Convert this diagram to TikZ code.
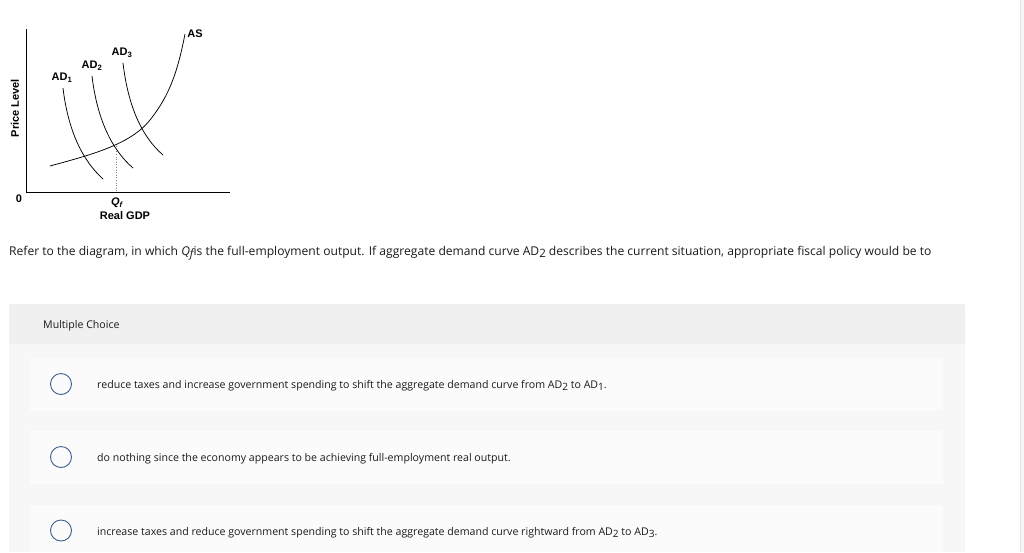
\documentclass[tikz,border=0pt]{standalone}
\usepackage{fontspec}
\usepackage{graphicx}
\setmainfont{Open Sans}
\newfontfamily\graphfont{Liberation Sans}
\definecolor{headgray}{HTML}{F0F0F0}
\definecolor{panelgray}{HTML}{F7F7F7}
\definecolor{cardgray}{HTML}{FBFBFB}
\definecolor{radioblue}{HTML}{3F5F8F}
\definecolor{textdark}{HTML}{1A1A1A}
\definecolor{scrollgray}{HTML}{E2E2E2}
\newcommand{\lowdig}[1]{\raisebox{-0.4ex}{\scalebox{0.95}{#1}}}
\tikzset{
	graphlabel/.style={font=\graphfont\bfseries\fontsize{11}{12}\selectfont, inner sep=0pt},
	curve/.style={line width=0.75pt},
	question/.style={font=\fontsize{12.1}{13}\selectfont, text=textdark, anchor=base west, inner sep=0pt},
	choice/.style={font=\fontsize{10.6}{12}\selectfont, text=textdark, anchor=base west, inner sep=0pt},
	card/.style={fill=cardgray, draw=none},
	radio/.style={circle, draw=radioblue, line width=0.9pt, minimum size=21pt, inner sep=0pt}
}
\begin{document}
\begin{tikzpicture}[x=1pt, y=-1pt]
	\useasboundingbox (0,0) rectangle (1024,552);
	\fill[white] (0,0) rectangle (1024,552);
	
	% scroll bar edge
	\fill[panelgray] (1020,0) rectangle (1024,552);
	\draw[scrollgray, line width=1pt] (1020.5,0) -- (1020.5,552);
	
	% graph
	\coordinate (origin) at (26.5,192.5);
	\coordinate (ytop) at (26.5,29);
	\coordinate (xend) at (230,192.5);
	\draw[line width=0.7pt] (ytop) -- (origin) -- (xend);
	
	\coordinate (qf) at (116,143.5);
	\coordinate (qfaxis) at (116,192.5);
	\draw[gray, dotted, line width=0.6pt] (qf) -- (qfaxis);
	
	\draw[curve] (50,166) .. controls (90,155) and (130,145) .. (150,120)
		.. controls (170,95) and (178,70) .. (185,34);
	\draw[curve] (63,88) .. controls (68,130) and (82,160) .. (103,179);
	\draw[curve] (92,76) .. controls (97,118) and (111,149) .. (133,168);
	\draw[curve] (123,63) .. controls (128,105) and (141,136) .. (163,155);
	
	\node[graphlabel] (ad1) at (62,78) {AD\textsubscript{1}};
	\node[graphlabel] (ad2) at (92,66) {AD\textsubscript{2}};
	\node[graphlabel] (ad3) at (122,53) {AD\textsubscript{3}};
	\node[graphlabel] (as) at (195,34) {AS};
	\node[graphlabel] (zero) at (19,199) {0};
	\node[graphlabel] (qlabel) at (117,203) {\itshape Q\textsubscript{f}};
	\node[graphlabel] (xlabel) at (125,215.5) {Real GDP};
	\node[graphlabel, rotate=90] (ylabel) at (15,108) {Price Level};
	
	% question
	\node[question] (q) at (9,255) {Refer to the diagram, in which {\itshape Q}\lowdig{\itshape f}is the full-employment output. If aggregate demand curve AD\lowdig{2} describes the current situation, appropriate fiscal policy would be to};
	
	% answer panel
	\fill[panelgray] (9,344) rectangle (965,552);
	\fill[headgray, rounded corners=2pt] (9,304) rectangle (965,344);
	\fill[headgray] (9,330) rectangle (965,344);
	\node[choice] (mc) at (43,328) {Multiple Choice};
	
	\fill[card] (30,358) rectangle (943,411);
	\fill[card] (30,431) rectangle (943,484);
	\fill[card] (30,505) rectangle (943,552);
	
	\node[radio] (r1) at (61,384) {};
	\node[radio] (r2) at (61,457) {};
	\node[radio] (r3) at (61,530.5) {};
	
	\node[choice] (c1) at (97,388) {reduce taxes and increase government spending to shift the aggregate demand curve from AD\lowdig{2} to AD\lowdig{1}.};
	\node[choice] (c2) at (97,461) {do nothing since the economy appears to be achieving full-employment real output.};
	\node[choice] (c3) at (97,535) {increase taxes and reduce government spending to shift the aggregate demand curve rightward from AD\lowdig{2} to AD\lowdig{3}.};
\end{tikzpicture}
\end{document}
